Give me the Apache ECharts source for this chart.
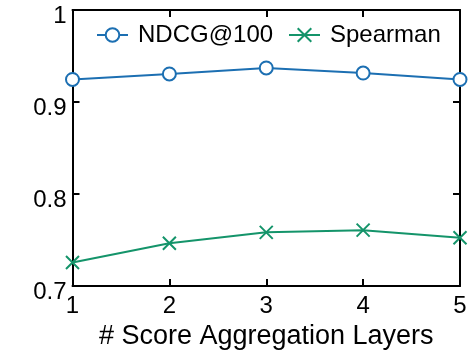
<!DOCTYPE html>
<html>
<head>
<meta charset="utf-8">
<script src="https://cdn.jsdelivr.net/npm/echarts@6/dist/echarts.min.js"></script>
<style>html,body{margin:0;padding:0;background:#fff}#c{width:474px;height:355px}</style>
</head>
<body>
<div id="c"></div>
<script>
const layers = ['1', '2', '3', '4', '5'];
const ndcg = [0.9245, 0.9305, 0.937, 0.9315, 0.9245];
const spearman = [0.7255, 0.7465, 0.7583, 0.7607, 0.7525];
const yTicks = [0.7, 0.8, 0.9, 1];

const font = 'Liberation Sans, Arial, Helvetica, sans-serif';
const blue = '#1c6fb2';
const green = '#14946a';
const chart = echarts.init(document.getElementById('c'), null, {renderer: 'canvas'});
const yFmt = v => {
  const r = Math.round(v * 10) / 10;
  return yTicks.includes(r) ? (r === 1 ? '1' : r.toFixed(1)) : '';
};
const legendText = {fontFamily: font, fontSize: 24, color: '#000', padding: [0, 0, 0, 5]};
chart.setOption({
  animation: false,
  grid: {left: 72.5, right: 14, top: 10, bottom: 67},
  legend: [{
    top: 18, left: 91,
    itemWidth: 31, itemHeight: 17,
    textStyle: legendText,
    data: ['NDCG@100']
  }, {
    top: 18, left: 283,
    itemWidth: 31, itemHeight: 17,
    textStyle: legendText,
    data: ['Spearman']
  }],
  xAxis: [{
    type: 'category', data: layers, boundaryGap: false,
    name: '# Score Aggregation Layers', nameLocation: 'middle', nameGap: 37,
    nameTextStyle: {fontFamily: font, fontSize: 27, color: '#000'},
    axisLine: {lineStyle: {color: '#000', width: 2}},
    axisTick: {inside: true, length: 7, lineStyle: {color: '#000', width: 2}},
    axisLabel: {fontFamily: font, fontSize: 24, color: '#000', margin: 8},
    splitLine: {show: false}
  }, {
    type: 'category', data: layers, boundaryGap: false, position: 'top',
    axisLine: {lineStyle: {color: '#000', width: 2}},
    axisTick: {inside: true, length: 7, lineStyle: {color: '#000', width: 2}},
    axisLabel: {show: false}, splitLine: {show: false}
  }],
  yAxis: [{
    type: 'value', min: 0.7, max: 1, interval: 0.1,
    axisLine: {show: true, lineStyle: {color: '#000', width: 2}},
    axisTick: {show: true, inside: true, length: 7, lineStyle: {color: '#000', width: 2}},
    axisLabel: {fontFamily: font, fontSize: 24, color: '#000', margin: 6, verticalAlign: 'top', lineHeight: 12, formatter: yFmt},
    splitLine: {show: false}
  }, {
    type: 'value', min: 0.7, max: 1, interval: 0.1, position: 'right',
    axisLine: {show: true, lineStyle: {color: '#000', width: 2}},
    axisTick: {show: true, inside: true, length: 7, lineStyle: {color: '#000', width: 2}},
    axisLabel: {show: false}, splitLine: {show: false}
  }],
  series: [{
    name: 'NDCG@100', type: 'line', data: ndcg,
    symbol: 'emptyCircle', symbolSize: 13,
    lineStyle: {color: blue, width: 2},
    itemStyle: {color: blue, borderColor: blue, borderWidth: 2}
  }, {
    name: 'Spearman', type: 'line', data: spearman,
    symbol: 'path://M0,0L10,10M10,0L0,10', symbolSize: 13,
    lineStyle: {color: green, width: 2},
    itemStyle: {color: green, borderColor: green, borderWidth: 2}
  }]
});
</script>
</body>
</html>
